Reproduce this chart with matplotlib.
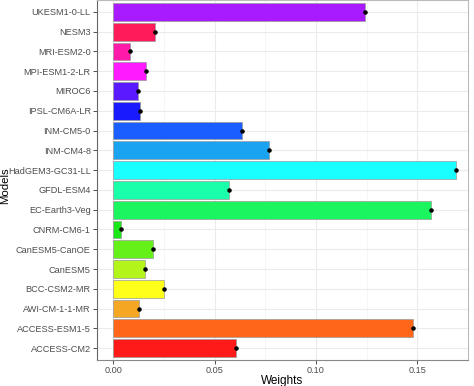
import matplotlib
matplotlib.use('Agg')
import matplotlib.pyplot as plt
from matplotlib.ticker import MultipleLocator

plt.rcParams['font.family'] = ['Liberation Sans', 'DejaVu Sans']

# models listed bottom to top
models = ['ACCESS-CM2', 'ACCESS-ESM1-5', 'AWI-CM-1-1-MR', 'BCC-CSM2-MR', 'CanESM5',
          'CanESM5-CanOE', 'CNRM-CM6-1', 'EC-Earth3-Veg', 'GFDL-ESM4', 'HadGEM3-GC31-LL',
          'INM-CM4-8', 'INM-CM5-0', 'IPSL-CM6A-LR', 'MIROC6', 'MPI-ESM1-2-LR',
          'MRI-ESM2-0', 'NESM3', 'UKESM1-0-LL']
weights = [0.0605, 0.1477, 0.0127, 0.0250, 0.0158,
           0.0196, 0.0039, 0.1566, 0.0569, 0.1690,
           0.0770, 0.0636, 0.0130, 0.0123, 0.0160,
           0.0084, 0.0206, 0.1240]
colors = ['#FF1A1A', '#FF661A', '#F5A623', '#FFFF1A', '#B3F51A',
          '#66F01A', '#1AE61A', '#1AF560', '#1AFFAA', '#1AFFFF',
          '#1AA3F0', '#1A5EFF', '#1A1AFF', '#5A1AFF', '#FF1AFF',
          '#FF1AAA', '#FF1A5A', '#A81AFF']
xticks = [0.00, 0.05, 0.10, 0.15]

fig = plt.figure(figsize=(4.74, 3.86), dpi=100)
ax = fig.add_axes([97 / 474, 26 / 386, (468 - 97) / 474, 360 / 386])

ypos = list(range(len(models)))
ax.barh(ypos, weights, height=0.9, color=colors, edgecolor='#9a9a9a',
        linewidth=0.5, zorder=3)
ax.scatter(weights, ypos, s=5, color='black', zorder=4)

ax.set_xlim(-0.008, 0.175)
ax.set_ylim(-0.6, len(models) - 0.4)
ax.set_yticks(ypos)
ax.set_yticklabels(models)
ax.set_xticks(xticks)
ax.set_xticklabels(['%.2f' % t for t in xticks])
ax.xaxis.set_minor_locator(MultipleLocator(0.025))

ax.grid(True, which='major', color='#EBEBEB', linewidth=0.8, zorder=0)
ax.grid(True, which='minor', axis='x', color='#F2F2F2', linewidth=0.5, zorder=0)
ax.set_axisbelow(True)

for s in ax.spines.values():
    s.set_color('#BBBBBB')
    s.set_linewidth(0.8)
ax.spines['left'].set_color('#666666')
ax.spines['bottom'].set_color('#888888')

ax.tick_params(axis='both', which='major', labelsize=6.6, colors='#333333',
               length=3, width=0.6, pad=1.5)
ax.tick_params(axis='both', which='minor', length=0)
for lab in ax.get_xticklabels() + ax.get_yticklabels():
    lab.set_color('#4D4D4D')

ax.set_xlabel('Weights', fontsize=8.5, labelpad=0)
# y title sits at the very left edge of the figure
fig.text(5.5 / 474, 1 - 186 / 386, 'Models', fontsize=8.2, rotation=90,
         ha='center', va='center')

fig.savefig('out.png', dpi=100)
